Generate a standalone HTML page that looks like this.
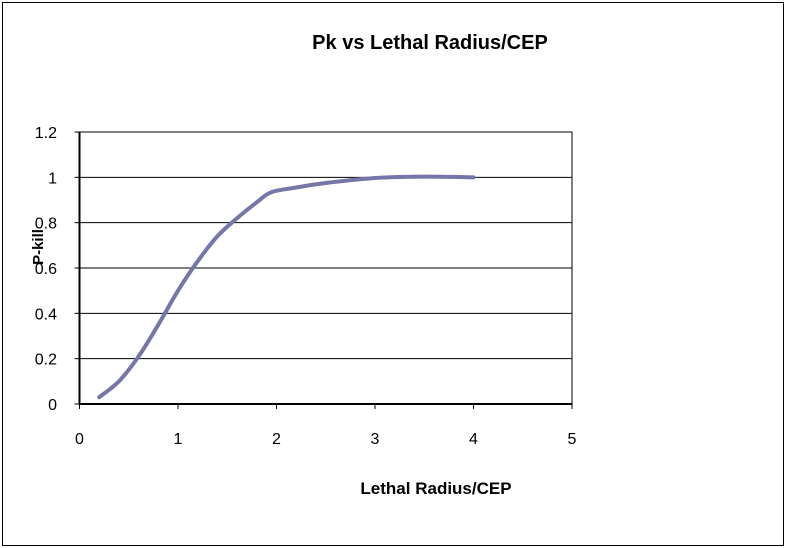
<!DOCTYPE html>
<html><head><meta charset="utf-8"><style>
body{margin:0;background:#fff;}
svg{display:block;font-family:"Liberation Sans",sans-serif;}
</style></head><body>
<svg width="786" height="548">
<rect x="2.5" y="2.5" width="781" height="543" fill="#fff" stroke="#000" stroke-width="1"/>
<text x="430" y="49" text-anchor="middle" font-size="20" font-weight="bold">Pk vs Lethal Radius/CEP</text>
<g id="grid"></g>
<g id="axes"></g>
<path id="line" fill="none" stroke="#7677a8" stroke-width="4" stroke-linejoin="round" stroke-linecap="round"/>
<text x="436" y="494" text-anchor="middle" font-size="17" font-weight="bold">Lethal Radius/CEP</text>
<text transform="translate(43,247) rotate(-90)" text-anchor="middle" font-size="15" font-weight="bold">P-kill</text>
</svg>
<script>
const xData=[0.2,0.4,0.6,0.8,1.0,1.2,1.4,1.6,1.8,1.95,2.2,2.5,3.0,3.5,4.0];
const yData=[0.03,0.1,0.21,0.35,0.5,0.63,0.74,0.82,0.89,0.935,0.955,0.975,0.997,1.003,1.0];
const xTicks=[0,1,2,3,4,5];
const yTicks=[0,0.2,0.4,0.6,0.8,1,1.2];
const X0=79.5,X1=572,Y0=404,Y1=132;
const sx=v=>X0+(v-0)/5*(X1-X0);
const sy=v=>Y0-(v/1.2)*(Y0-Y1);
const ns="http://www.w3.org/2000/svg";
const grid=document.getElementById('grid'),axes=document.getElementById('axes');
function mk(tag,attrs,parent){const e=document.createElementNS(ns,tag);for(const k in attrs)e.setAttribute(k,attrs[k]);parent.appendChild(e);return e;}
yTicks.forEach(t=>{
 const y=sy(t);
 if(t>0){const l=mk('line',{x1:X0,x2:X1,y1:y,y2:y,stroke:'#000','stroke-width':1},grid);
 
 }
 mk('line',{x1:X0-5,x2:X0,y1:y,y2:y,stroke:'#000'},axes);
 const tx=mk('text',{x:57,y:y+6,'text-anchor':'end','font-size':'16'},axes);
 tx.textContent=String(t);
 
 
});
xTicks.forEach(t=>{
 const x=sx(t);
 mk('line',{x1:x,x2:x,y1:Y0,y2:Y0+5,stroke:'#000'},axes);
 const tx=mk('text',{x:x,y:444,'text-anchor':'middle','font-size':'16'},axes);
 tx.textContent=String(t);
 
 
});
const pa=mk('rect',{x:X0,y:Y1,width:X1-X0,height:Y0-Y1,fill:'none',stroke:'#000','stroke-width':1},axes);


mk('line',{x1:X0,x2:X0,y1:Y1,y2:Y0,stroke:'#000','stroke-width':2},axes);
mk('line',{x1:X0,x2:X1,y1:Y0,y2:Y0,stroke:'#000','stroke-width':2},axes);
const P=xData.map((v,i)=>[sx(v),sy(yData[i])]);
let d='M'+P[0][0]+','+P[0][1];
for(let i=0;i<P.length-1;i++){
 const p0=P[i-1]||P[i],p1=P[i],p2=P[i+1],p3=P[i+2]||P[i+1];
 const c1=[p1[0]+(p2[0]-p0[0])/6,p1[1]+(p2[1]-p0[1])/6];
 const c2=[p2[0]-(p3[0]-p1[0])/6,p2[1]-(p3[1]-p1[1])/6];
 d+=` C${c1[0]},${c1[1]} ${c2[0]},${c2[1]} ${p2[0]},${p2[1]}`;
}
document.getElementById('line').setAttribute('d',d);
</script>
</body></html>
